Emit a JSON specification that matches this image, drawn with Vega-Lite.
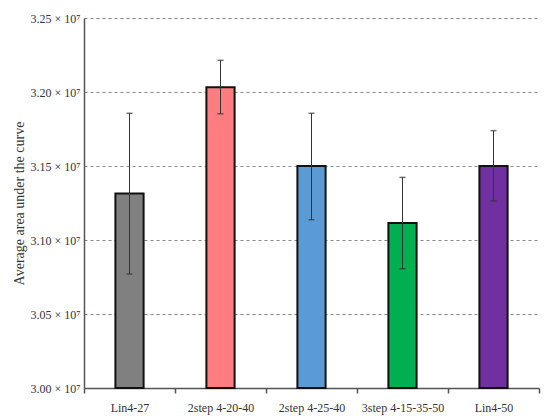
{
  "$schema": "https://vega.github.io/schema/vega-lite/v6.json",
  "autosize": "none",
  "width": 455,
  "height": 370,
  "padding": {"left": 84, "top": 18, "right": 11, "bottom": 32},
  "background": "white",
  "config": {
    "view": {"stroke": null},
    "font": "Liberation Serif",
    "axis": {
      "labelFont": "Liberation Serif",
      "titleFont": "Liberation Serif",
      "labelColor": "#333333",
      "titleColor": "#333333",
      "titleFontWeight": "normal",
      "domainColor": "#555555",
      "domainWidth": 1.5,
      "tickColor": "#555555"
    }
  },
  "data": {
    "values": [
      {"method": "Lin4-27", "mean": 31315000, "low": 30770000, "high": 31856000},
      {"method": "2step 4-20-40", "mean": 32032000, "low": 31853000, "high": 32214000},
      {"method": "2step 4-25-40", "mean": 31500000, "low": 31137000, "high": 31856000},
      {"method": "3step 4-15-35-50", "mean": 31115000, "low": 30806000, "high": 31423000},
      {"method": "Lin4-50", "mean": 31500000, "low": 31264000, "high": 31739000}
    ]
  },
  "encoding": {
    "x": {
      "field": "method",
      "type": "nominal",
      "sort": null,
      "title": null,
      "scale": {"paddingInner": 0, "paddingOuter": 0},
      "axis": {
        "labelAngle": 0,
        "labelFontSize": 12,
        "labelPadding": 9,
        "tickBand": "extent",
        "tickSize": 5,
        "tickWidth": 1.5
      }
    }
  },
  "layer": [
    {
      "mark": {"type": "bar", "width": {"band": 0.31}, "stroke": "#111111", "strokeWidth": 2},
      "encoding": {
        "y": {
          "field": "mean",
          "type": "quantitative",
          "title": "Average area under the curve",
          "scale": {"domain": [30000000, 32500000], "zero": false, "nice": false},
          "axis": {
            "values": [30000000, 30500000, 31000000, 31500000, 32000000, 32500000],
            "labelExpr": "format(datum.value / 10000000, '.2f') + ' × 10⁷'",
            "labelFontSize": 12,
            "labelPadding": 4,
            "ticks": false,
            "grid": true,
            "gridDash": [3, 3],
            "gridColor": "#888888",
            "gridWidth": 1,
            "titleFontSize": 14,
            "titlePadding": 4
          }
        },
        "y2": {"datum": 30000000},
        "color": {
          "field": "method",
          "type": "nominal",
          "legend": null,
          "scale": {
            "domain": ["Lin4-27", "2step 4-20-40", "2step 4-25-40", "3step 4-15-35-50", "Lin4-50"],
            "range": ["#808080", "#FF7C80", "#5B9BD5", "#00B050", "#7030A0"]
          }
        }
      }
    },
    {
      "mark": {"type": "errorbar", "ticks": {"size": 6, "thickness": 1.5, "color": "#333333"}, "rule": {"color": "#333333", "strokeWidth": 1}},
      "encoding": {
        "y": {"field": "low", "type": "quantitative", "title": "Average area under the curve"},
        "y2": {"field": "high"}
      }
    }
  ]
}
